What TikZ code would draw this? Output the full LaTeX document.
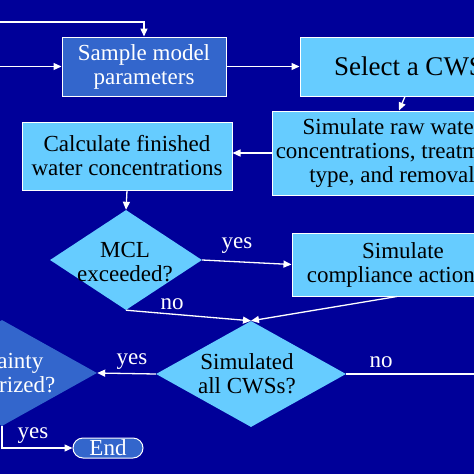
\documentclass[tikz,border=0pt]{standalone}
\usepackage{fontspec}
\setmainfont{Liberation Serif}
\usetikzlibrary{shapes.geometric,arrows.meta,calc}
\definecolor{bgblue}{RGB}{0,0,153}
\definecolor{lightb}{RGB}{102,204,255}
\definecolor{midb}{RGB}{51,102,204}
\tikzset{
  txtfont/.style={font=\fontsize{23}{24}\selectfont},
  lbox/.style={draw=white, line width=1pt, fill=lightb, text=black, align=center, inner sep=0pt, txtfont},
  mbox/.style={draw=white, line width=1pt, fill=midb, text=white, align=center, inner sep=0pt, txtfont},
  dia/.style={diamond, draw=none, inner sep=0pt},
  dtext/.style={align=center, inner sep=0pt, txtfont},
  conn/.style={draw=white, line width=1.3pt},
  arr/.style={conn, -{Triangle[width=7pt,length=8pt]}},
  lbl/.style={text=white, inner sep=0pt, txtfont}
}
\begin{document}
\begin{tikzpicture}[x=1pt,y=-1pt]
\useasboundingbox (0,0) rectangle (474,474);
\clip (0,0) rectangle (474,474);
\fill[bgblue] (0,0) rectangle (474,474);

\node[mbox, minimum width=164pt, minimum height=59pt] (sample) at (144,66.5) {Sample model\\parameters};
\node[lbox, minimum width=218pt, minimum height=59pt, font=\fontsize{27}{28}\selectfont] (select) at (409,66.5) {Select a CWS};
\node[lbox, minimum width=240pt, minimum height=84pt] (simraw) at (392,153) {Simulate raw water\\concentrations, treatment\\type, and removal};
\node[lbox, minimum width=210pt, minimum height=68pt] (calc) at (127,156) {Calculate finished\\water concentrations};
\node[dia, fill=lightb, minimum width=152pt, minimum height=100pt] (mcl) at (126,260) {};
\node[dtext, text=black] (mcltext) at (125,262) {MCL\\exceeded?};
\node[lbox, minimum width=222pt, minimum height=63pt] (comp) at (403,264.5) {Simulate\\compliance action(s)};
\node[dia, fill=lightb, minimum width=190pt, minimum height=106pt] (simd) at (251,374) {};
\node[dtext, text=black] (simdtext) at (247,374) {Simulated\\all CWSs?};
\node[dia, fill=midb, minimum width=190pt, minimum height=106pt] (unc) at (2,373) {};
\node[dtext, text=white] (unctext) at (-11,373) {Uncertainty\\characterized?};
\node[mbox, rounded corners=10pt, minimum width=70pt, minimum height=20pt] (end) at (108,448) {End};

\coordinate (topin) at (0,22);
\coordinate (leftin) at (0,66.5);
\coordinate (noout) at (474,374);
\coordinate (ucorner) at (2,448);

\draw[arr] (topin) -| (sample.north);
\draw[arr] (leftin) -- (sample.west);
\draw[arr] (sample.east) -- (select.west);
\draw[arr] ($(select.south)+(-4,0)$) -- ($(simraw.north)+(7,0)$);
\draw[arr] (simraw.west) -- (calc.east |- simraw.west);
\draw[arr] (calc.south) -- (mcl.north);
\draw[arr] (mcl.east) -- (comp.west);
\draw[arr] (mcl.south) -- (simd.north);
\draw[arr] ($(comp.south)+(-6,0)$) -- (simd.north);
\draw[conn] (simd.east) -- (noout);
\draw[arr] (simd.west) -- (unc.east);
\draw[arr] (unc.south) -- (ucorner) -- (end.west);

\node[lbl] (lyes1) at (237,246) {yes};
\node[lbl] (lno1) at (172,304) {no};
\node[lbl] (lno2) at (381,362) {no};
\node[lbl] (lyes2) at (132,362) {yes};
\node[lbl] (lyes3) at (33,436) {yes};
\end{tikzpicture}
\end{document}
